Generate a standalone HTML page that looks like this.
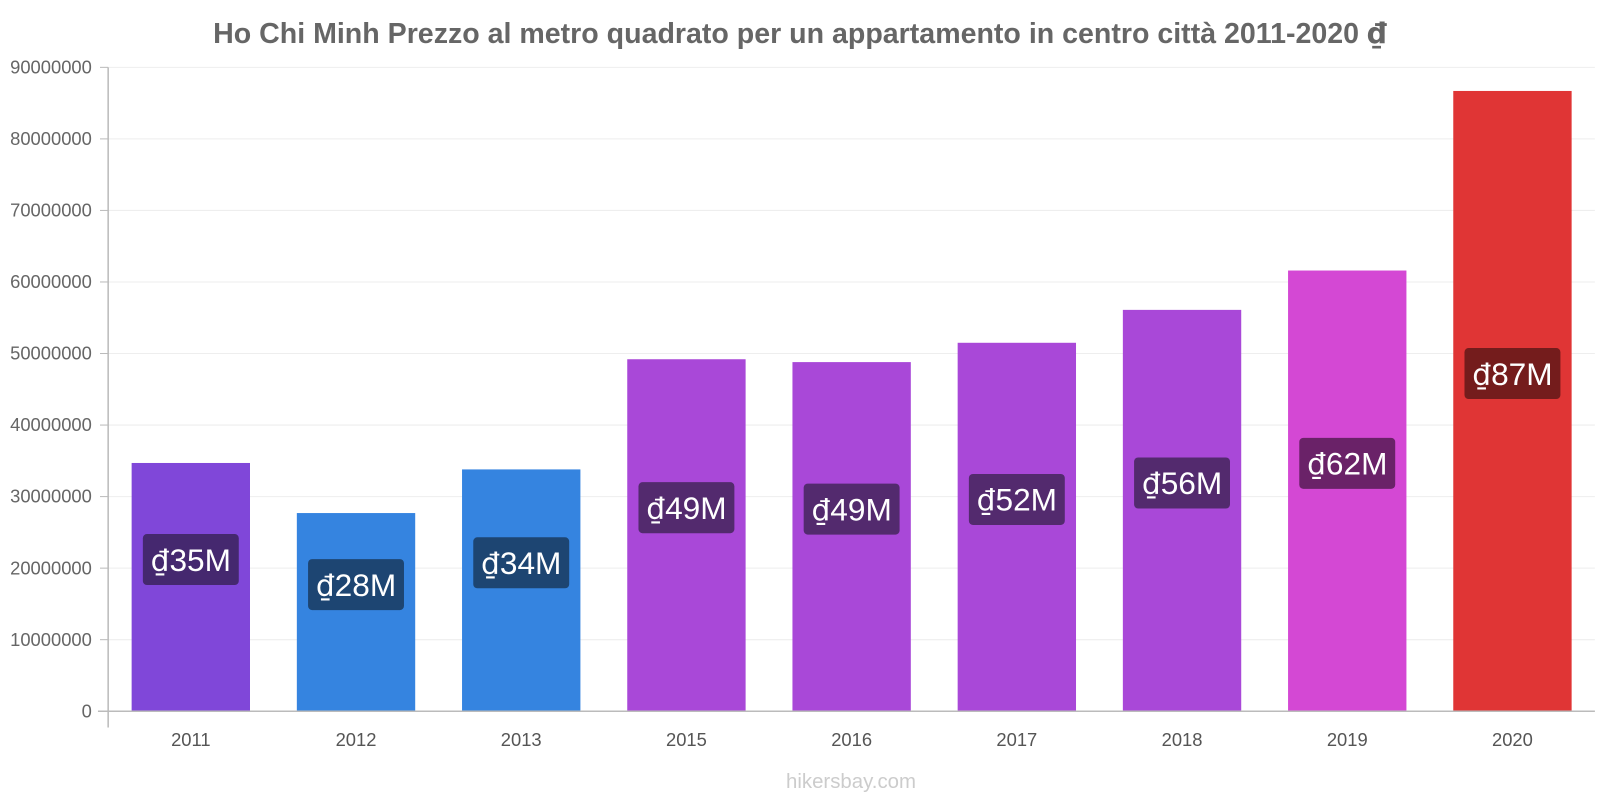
<!DOCTYPE html>
<html><head><meta charset="utf-8"><style>
body{margin:0;background:#fff;font-family:"Liberation Sans",sans-serif}
</style></head><body>
<svg id="chart" width="1600" height="800" viewBox="0 0 1568 784" xmlns="http://www.w3.org/2000/svg" font-family="Liberation Sans, sans-serif">
<text x="784" y="42" text-anchor="middle" font-size="28" font-weight="bold" fill="#666">Ho Chi Minh Prezzo al metro quadrato per un appartamento in centro città 2011-2020 <tspan font-family="DejaVu Sans, sans-serif">₫</tspan></text>
<g id="grid"></g><g id="bars"></g>
<line x1="106" y1="66" x2="106" y2="713" stroke="#bbb" stroke-width="1.5"/>
<line x1="96" y1="697" x2="1563" y2="697" stroke="#bbb" stroke-width="1.5"/>
<text x="834" y="772" text-anchor="middle" font-size="20" fill="#ccc">hikersbay.com</text>
</svg>
<script>
const categories=["2011","2012","2013","2015","2016","2017","2018","2019","2020"];
const values=[34700000,27700000,33800000,49200000,48800000,51500000,56100000,61600000,86700000];
const labels=["35M","28M","34M","49M","49M","52M","56M","62M","87M"];
const yTicks=[0,10000000,20000000,30000000,40000000,50000000,60000000,70000000,80000000,90000000];
const colors=["#8047d9","#3584e0","#3584e0","#a948d8","#a948d8","#a948d8","#a948d8","#d448d4","#e03535"];
const labelColors=["#45286f","#1d4572","#1d4572","#532a6e","#532a6e","#532a6e","#532a6e","#6a2268","#741c1c"];
const NS="http://www.w3.org/2000/svg";
const y=v=>697-v*(631/90000000);
const x=i=>187+i*161.9;
const grid=document.getElementById('grid'),bars=document.getElementById('bars');
function mk(t,a,p){const e=document.createElementNS(NS,t);for(const k in a)e.setAttribute(k,a[k]);p.appendChild(e);return e;}
yTicks.forEach(t=>{
 const l=mk('line',{x1:106,x2:1563,y1:y(t),y2:y(t),stroke:'#eee'},grid);
 
 
 const tx=mk('text',{x:90,y:y(t)+6,'text-anchor':'end','font-size':18,fill:'#666'},grid);
 tx.textContent=t;
 
 
 const tk=mk('line',{x1:98,x2:106,y1:y(t),y2:y(t),stroke:'#bbb'},grid);
 
 
});
categories.forEach((c,i)=>{
 const cx=x(i),top=y(values[i]);
 const r=mk('rect',{x:cx-58,y:top,width:116,height:697-top,fill:colors[i]},bars);
 
 
 const ly=(top+697)/2-27;
 const b=mk('rect',{x:cx-47,y:ly-25,width:94,height:50,rx:4,fill:labelColors[i]},bars);
 
 
 const t=mk('text',{x:cx,y:ly+11,'text-anchor':'middle','font-size':31,fill:'#fff'},bars);
 
 
 const s=mk('tspan',{'font-family':'DejaVu Sans, sans-serif','font-size':29},t);
 s.textContent='₫';
 const s2=mk('tspan',{},t);
 s2.textContent=labels[i];
 const xl=mk('text',{x:cx,y:731,'text-anchor':'middle','font-size':18,fill:'#555'},bars);
 xl.textContent=c;
 
 
});
</script>
</body></html>
